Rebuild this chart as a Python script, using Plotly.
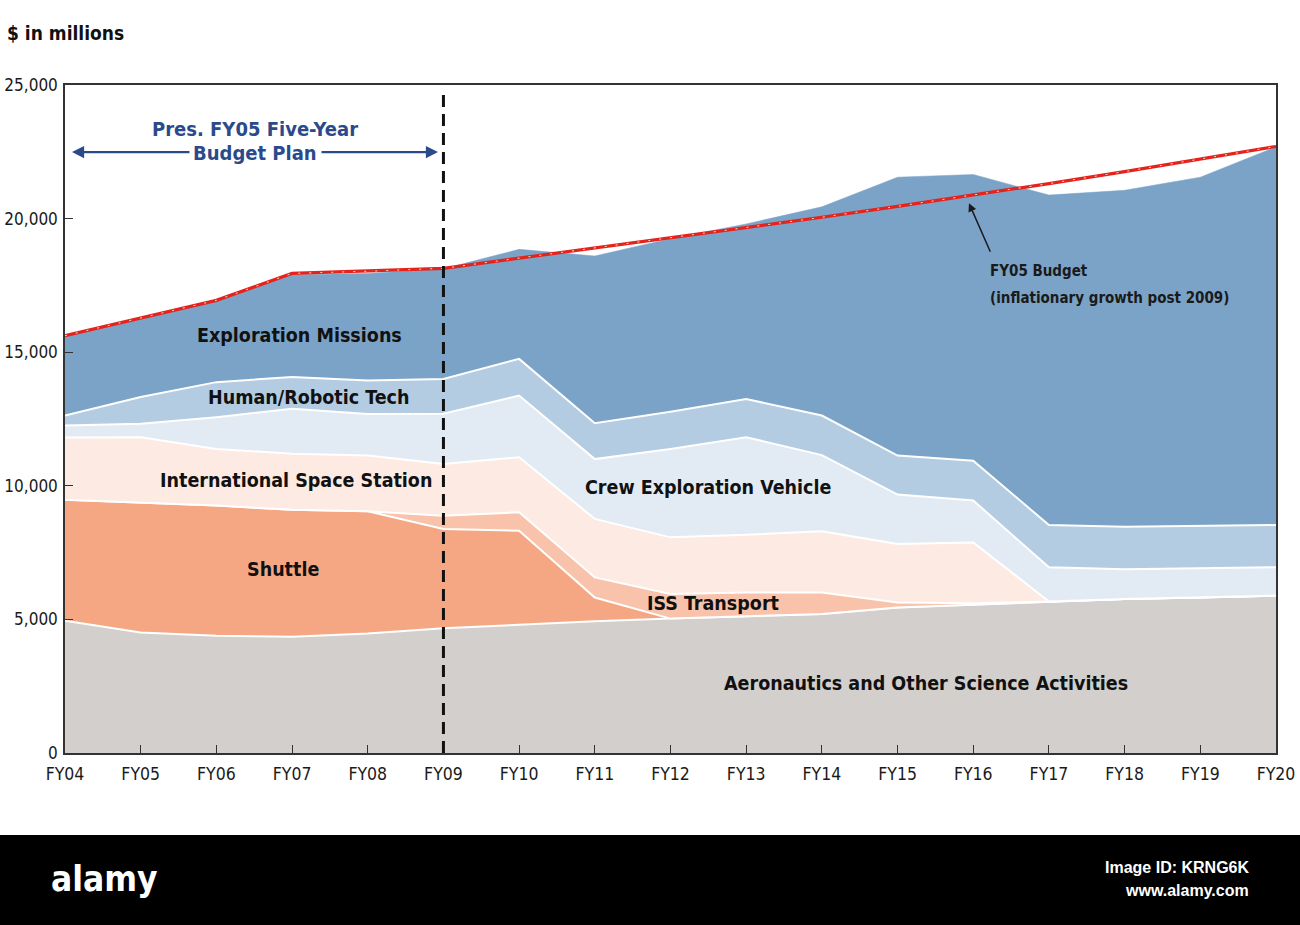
import plotly.graph_objects as go

# ---------------- data ($ in millions) ----------------
years = ["FY04", "FY05", "FY06", "FY07", "FY08", "FY09", "FY10", "FY11", "FY12",
         "FY13", "FY14", "FY15", "FY16", "FY17", "FY18", "FY19", "FY20"]

aeronautics = [4950, 4510, 4390, 4350, 4470, 4670, 4800, 4930, 5030, 5120, 5200,
               5450, 5550, 5670, 5760, 5820, 5890]
shuttle = [4530, 4870, 4870, 4750, 4580, 3710, 3520, 890, 0, 0, 0, 0, 0, 0, 0, 0, 0]
iss_transport = [0, 0, 0, 0, 0, 500, 690, 750, 920, 890, 810, 180, 50, 0, 0, 0, 0]
iss = [2330, 2440, 2120, 2100, 2080, 1940, 2060, 2190, 2120, 2160, 2290, 2190, 2280,
       0, 0, 0, 0]
cev = [450, 500, 1190, 1680, 1560, 1880, 2310, 2240, 3310, 3650, 2850, 1850, 1570,
       1280, 1120, 1100, 1060]
human_robotic = [370, 1000, 1310, 1190, 1250, 1300, 1370, 1340, 1390, 1430, 1480,
                 1460, 1490, 1580, 1590, 1580, 1580]
exploration = [2970, 2930, 3020, 3830, 4010, 4120, 4100, 6260, 6480, 6550, 7810,
               10420, 10710, 12350, 12590, 13050, 14150]
fy05_budget = [15620, 16270, 16940, 17950, 18030, 18140, 18520, 18900, 19280, 19660,
               20050, 20460, 20880, 21310, 21760, 22220, 22700]

y_ticks = [0, 5000, 10000, 15000, 20000, 25000]

series = [
    ("Aeronautics and Other Science Activities", aeronautics, "#d3cfcc"),
    ("Shuttle", shuttle, "#f5a784"),
    ("ISS Transport", iss_transport, "#f8c3aa"),
    ("International Space Station", iss, "#fdeae2"),
    ("Crew Exploration Vehicle", cev, "#e2ebf4"),
    ("Human/Robotic Tech", human_robotic, "#b3cce2"),
    ("Exploration Missions", exploration, "#7ba3c7"),
]

xs = list(range(len(years)))

NARROW = "DejaVu Sans Condensed, Liberation Sans, sans-serif"

fig = go.Figure()
for name, vals, col in series:
    last = name == "Exploration Missions"
    fig.add_trace(go.Scatter(
        x=xs, y=vals, name=name, mode="lines", stackgroup="one",
        line=dict(color=col if last else "white", width=0.5 if last else 2),
        fillcolor=col, hoverinfo="skip", showlegend=False,
    ))

# FY05 budget line (red with light dots)
fig.add_trace(go.Scatter(x=xs, y=fy05_budget, mode="lines",
                         line=dict(color="#e5231d", width=3.2),
                         hoverinfo="skip", showlegend=False))
fig.add_trace(go.Scatter(x=xs, y=fy05_budget, mode="lines",
                         line=dict(color="#ffd8b8", width=1, dash="2px,9px"),
                         hoverinfo="skip", showlegend=False))

# dashed vertical line at FY09
fig.add_shape(type="line", xref="x", yref="y", x0=5, x1=5, y0=0, y1=24750,
              line=dict(color="#111", width=3, dash="12px,7px"), layer="above")


def px2x(px):
    return (px - 65) / 75.69


def py2y(py):
    return (752 - py) / 26.68 * 1000


def label(text, px, py, size=19.5, color="#111", weight="bold", xanchor="center"):
    fig.add_annotation(text=text, xref="x", yref="y", x=px2x(px), y=py2y(py),
                       showarrow=False, xanchor=xanchor, yanchor="middle",
                       font=dict(family=NARROW, size=size, color=color, weight=weight))


label("Exploration Missions", 300, 335)
label("Human/Robotic Tech", 309, 397)
label("International Space Station", 296, 480)
label("Shuttle", 283, 569)
label("Crew Exploration Vehicle", 709, 487)
label("ISS Transport", 713, 603)
label("Aeronautics and Other Science Activities", 926, 683)

# Five-year plan annotation
BLUE = "#2b4a8b"
label("Pres. FY05 Five-Year", 255, 129, size=20, color=BLUE)
label("Budget Plan", 255, 153, size=20, color=BLUE)
for head, tail in [(72, 191), (438, 320)]:
    fig.add_annotation(x=px2x(head), y=py2y(152), ax=px2x(tail), ay=py2y(152),
                       xref="x", yref="y", axref="x", ayref="y", text="",
                       showarrow=True, arrowhead=2, arrowsize=1.1, arrowwidth=2.2,
                       arrowcolor=BLUE)

# FY05 budget note
label("FY05 Budget", 988, 271, size=15, color="#1a1a1a", xanchor="left")
label("(inflationary growth post 2009)", 988, 298, size=15, color="#1a1a1a",
      xanchor="left")
fig.add_annotation(x=px2x(969), y=py2y(203), ax=px2x(991), ay=py2y(253),
                   xref="x", yref="y", axref="x", ayref="y", text="",
                   showarrow=True, arrowhead=2, arrowsize=1.1, arrowwidth=1.5,
                   arrowcolor="#1a1a1a")

# axis title at top-left
fig.add_annotation(text="$ in millions", xref="paper", yref="paper",
                   x=-60 / 1211, y=(753 - 33) / 668, xanchor="left", yanchor="middle",
                   showarrow=False,
                   font=dict(family=NARROW, size=19, color="#111", weight="bold"))

# bottom banner of the picture
fig.add_shape(type="rect", xref="paper", yref="paper",
              x0=-66 / 1211, x1=1236 / 1211, y0=(753 - 930) / 668, y1=(753 - 835) / 668,
              fillcolor="black", line=dict(width=0), layer="above")
fig.add_annotation(text="alamy", xref="paper", yref="paper",
                   x=-16 / 1211, y=(753 - 879) / 668, xanchor="left", yanchor="middle",
                   showarrow=False,
                   font=dict(family=NARROW, size=35, color="white", weight="bold"))
fig.add_annotation(text="Image ID: KRNG6K", xref="paper", yref="paper",
                   x=1186 / 1211, y=(753 - 867) / 668, xanchor="right", yanchor="middle",
                   showarrow=False,
                   font=dict(family="Liberation Sans, Arial, sans-serif", size=16,
                             color="white", weight="bold"))
fig.add_annotation(text="www.alamy.com", xref="paper", yref="paper",
                   x=1186 / 1211, y=(753 - 890) / 668, xanchor="right", yanchor="middle",
                   showarrow=False,
                   font=dict(family="Liberation Sans, Arial, sans-serif", size=16,
                             color="white", weight="bold"))

fig.update_layout(
    width=1300, height=925,
    margin=dict(l=65, r=24, t=85, b=172),
    paper_bgcolor="white", plot_bgcolor="white",
    showlegend=False,
    xaxis=dict(range=[0, 16], tickvals=xs, ticktext=years, showgrid=False,
               zeroline=False, showline=True, linecolor="#333", linewidth=1.5,
               mirror=True, ticks="inside", ticklen=8, tickwidth=1.2, tickcolor="#333",
               tickfont=dict(family=NARROW, size=17.5, color="#1a1a1a"),
               ticklabelstandoff=4, automargin=False),
    yaxis=dict(range=[0, 25000], tickvals=y_ticks, tickformat=",d", showgrid=False,
               zeroline=False, showline=True, linecolor="#333", linewidth=1.5,
               mirror=True, ticks="inside", ticklen=8, tickwidth=1.2, tickcolor="#333",
               tickfont=dict(family=NARROW, size=17, color="#1a1a1a"),
               ticklabelstandoff=2, automargin=False),
)

fig.write_html("out.html", config={"displayModeBar": False})
